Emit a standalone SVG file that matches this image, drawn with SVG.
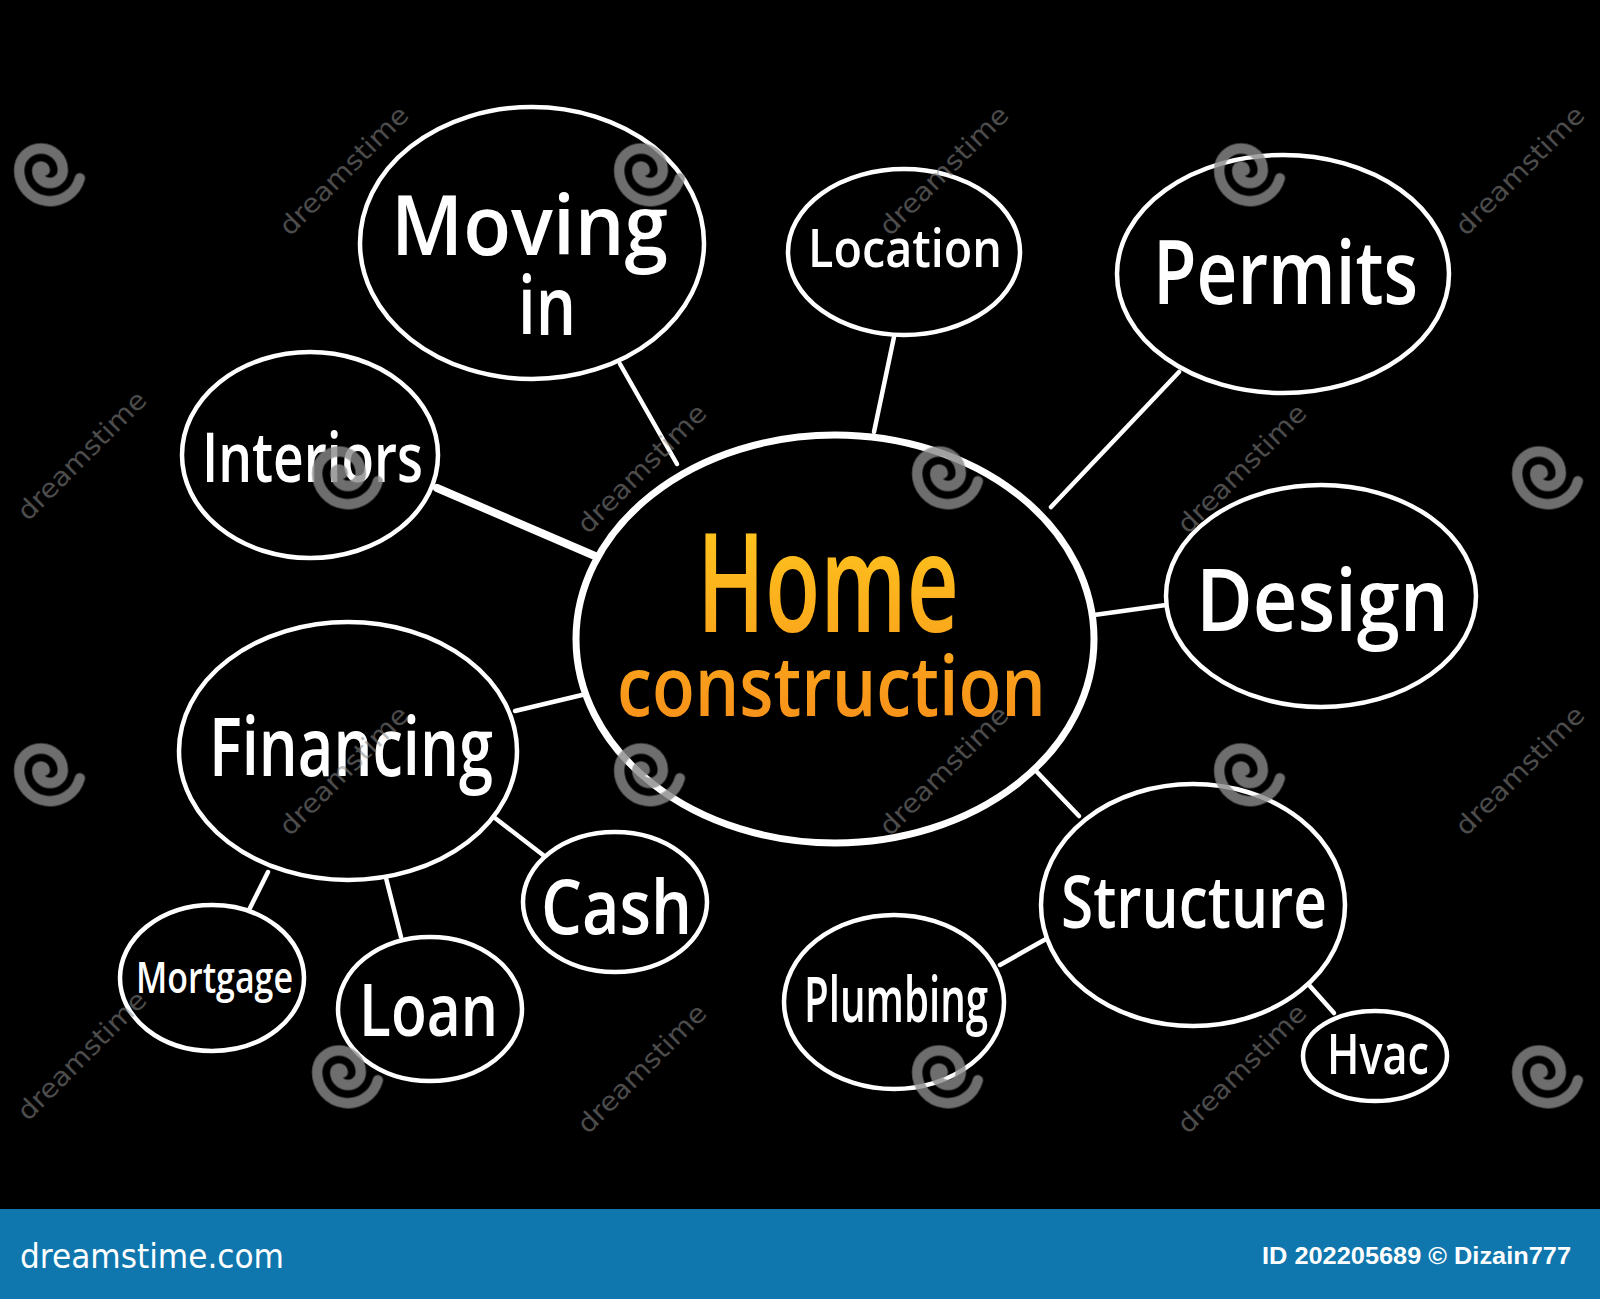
<svg xmlns="http://www.w3.org/2000/svg" width="1600" height="1299" viewBox="0 0 1600 1299">
  <defs>
    <style>
      .node ellipse { fill: none; stroke: #ffffff; stroke-width: 4.5; }
      .lbl { font-family: "Open Sans", "Liberation Sans", sans-serif; font-weight: 600; fill: #ffffff; }
      .hub { font-family: "Open Sans", "Liberation Sans", sans-serif; font-weight: 600; fill: url(#orange); }
      #connectors line { stroke: #ffffff; stroke-width: 4.5; stroke-linecap: round; }
      .wm-text { font-family: "DejaVu Sans", sans-serif; font-size: 26px; fill: #8a8a8a; opacity: 0.55; }
      .footer { font-family: "DejaVu Sans", "Liberation Sans", sans-serif; fill: #ffffff; }
    </style>
    <linearGradient id="orange" gradientUnits="userSpaceOnUse" x1="0" y1="510" x2="0" y2="720">
      <stop offset="0" stop-color="#FFC81E"/>
      <stop offset="1" stop-color="#F7921A"/>
    </linearGradient>
    <symbol id="spiral" overflow="visible">
      <path transform="scale(0.95) translate(-9.5,-5)" d="M 4 0 A 4 4 0 0 0 -4 0 A 13.5 13.5 0 0 0 23 0 A 23 23 0 0 0 -23 0 A 32.5 32.5 0 0 0 40.9 8.4" fill="none" stroke="#8a8a8a" stroke-width="11" stroke-linecap="round"/>
    </symbol>
  </defs>

  <rect x="0" y="0" width="1600" height="1299" fill="#000000"/>

  <g id="connectors">
    <line x1="620" y1="364" x2="677" y2="464"/>
    <line x1="894" y1="337" x2="874" y2="432"/>
    <line x1="1179" y1="372" x2="1051" y2="507"/>
    <line x1="437" y1="488" x2="595" y2="556" style="stroke-width:8"/>
    <line x1="1166" y1="605" x2="1094" y2="615"/>
    <line x1="515" y1="711" x2="582" y2="695"/>
    <line x1="1079" y1="816" x2="1037" y2="772"/>
    <line x1="495" y1="818" x2="543" y2="855"/>
    <line x1="268" y1="872" x2="250" y2="908"/>
    <line x1="386" y1="878" x2="401" y2="937"/>
    <line x1="1046" y1="939" x2="1000" y2="965"/>
    <line x1="1309" y1="985" x2="1334" y2="1013"/>
  </g>

  <g id="node-home" class="node">
    <ellipse cx="835" cy="639" rx="259" ry="204" style="stroke-width:7"/>
    <text class="hub" x="697" y="632" font-size="138" textLength="262" lengthAdjust="spacingAndGlyphs">Home</text>
    <text class="hub" x="617" y="716" font-size="84" textLength="429" lengthAdjust="spacingAndGlyphs">construction</text>
  </g>

  <g id="node-moving-in" class="node">
    <ellipse cx="532" cy="243" rx="172" ry="136"/>
    <text class="lbl" x="391" y="255" font-size="84" textLength="277" lengthAdjust="spacingAndGlyphs">Moving</text>
    <text class="lbl" x="518" y="335" font-size="82" textLength="58" lengthAdjust="spacingAndGlyphs">in</text>
  </g>

  <g id="node-location" class="node">
    <ellipse cx="904" cy="252" rx="116" ry="83"/>
    <text class="lbl" x="808" y="267" font-size="52" textLength="194" lengthAdjust="spacingAndGlyphs">Location</text>
  </g>

  <g id="node-permits" class="node">
    <ellipse cx="1283" cy="274" rx="166" ry="119"/>
    <text class="lbl" x="1153" y="304" font-size="88" textLength="265" lengthAdjust="spacingAndGlyphs">Permits</text>
  </g>

  <g id="node-interiors" class="node">
    <ellipse cx="310" cy="455" rx="128" ry="103"/>
    <text class="lbl" x="202" y="482" font-size="68" textLength="221" lengthAdjust="spacingAndGlyphs">Interiors</text>
  </g>

  <g id="node-design" class="node">
    <ellipse cx="1321" cy="596" rx="155" ry="111"/>
    <text class="lbl" x="1196" y="631" font-size="86" textLength="253" lengthAdjust="spacingAndGlyphs">Design</text>
  </g>

  <g id="node-financing" class="node">
    <ellipse cx="348" cy="751" rx="169" ry="129"/>
    <text class="lbl" x="209" y="776" font-size="82" textLength="284" lengthAdjust="spacingAndGlyphs">Financing</text>
  </g>

  <g id="node-cash" class="node">
    <ellipse cx="615" cy="902" rx="92" ry="70"/>
    <text class="lbl" x="541" y="934" font-size="76" textLength="151" lengthAdjust="spacingAndGlyphs">Cash</text>
  </g>

  <g id="node-mortgage" class="node">
    <ellipse cx="212" cy="978" rx="92" ry="73"/>
    <text class="lbl" x="136" y="993" font-size="44" textLength="157" lengthAdjust="spacingAndGlyphs">Mortgage</text>
  </g>

  <g id="node-loan" class="node">
    <ellipse cx="430" cy="1009" rx="92" ry="72"/>
    <text class="lbl" x="359" y="1036" font-size="72" textLength="139" lengthAdjust="spacingAndGlyphs">Loan</text>
  </g>

  <g id="node-structure" class="node">
    <ellipse cx="1193" cy="905" rx="152" ry="121"/>
    <text class="lbl" x="1061" y="928" font-size="72" textLength="266" lengthAdjust="spacingAndGlyphs">Structure</text>
  </g>

  <g id="node-plumbing" class="node">
    <ellipse cx="894" cy="1002" rx="110" ry="87"/>
    <text class="lbl" x="804" y="1022" font-size="64" textLength="184" lengthAdjust="spacingAndGlyphs">Plumbing</text>
  </g>

  <g id="node-hvac" class="node">
    <ellipse cx="1375" cy="1056" rx="72" ry="45"/>
    <text class="lbl" x="1327" y="1074" font-size="56" textLength="102" lengthAdjust="spacingAndGlyphs">Hvac</text>
  </g>

  <g id="watermark" opacity="0.8">
    <use href="#spiral" x="50" y="175"/>
    <use href="#spiral" x="650" y="175"/>
    <use href="#spiral" x="1250" y="175"/>
    <use href="#spiral" x="348" y="478"/>
    <use href="#spiral" x="948" y="478"/>
    <use href="#spiral" x="1548" y="478"/>
    <use href="#spiral" x="50" y="775"/>
    <use href="#spiral" x="650" y="775"/>
    <use href="#spiral" x="1250" y="775"/>
    <use href="#spiral" x="348" y="1077"/>
    <use href="#spiral" x="948" y="1077"/>
    <use href="#spiral" x="1548" y="1077"/>
  </g>
  <g id="watermark-text">
    <text class="wm-text" transform="translate(290,237) rotate(-45)" textLength="170" lengthAdjust="spacingAndGlyphs">dreamstime</text>
    <text class="wm-text" transform="translate(890,237) rotate(-45)" textLength="170" lengthAdjust="spacingAndGlyphs">dreamstime</text>
    <text class="wm-text" transform="translate(1466,237) rotate(-45)" textLength="170" lengthAdjust="spacingAndGlyphs">dreamstime</text>
    <text class="wm-text" transform="translate(28,522) rotate(-45)" textLength="170" lengthAdjust="spacingAndGlyphs">dreamstime</text>
    <text class="wm-text" transform="translate(588,535) rotate(-45)" textLength="170" lengthAdjust="spacingAndGlyphs">dreamstime</text>
    <text class="wm-text" transform="translate(1188,535) rotate(-45)" textLength="170" lengthAdjust="spacingAndGlyphs">dreamstime</text>
    <text class="wm-text" transform="translate(290,837) rotate(-45)" textLength="170" lengthAdjust="spacingAndGlyphs">dreamstime</text>
    <text class="wm-text" transform="translate(890,837) rotate(-45)" textLength="170" lengthAdjust="spacingAndGlyphs">dreamstime</text>
    <text class="wm-text" transform="translate(1466,837) rotate(-45)" textLength="170" lengthAdjust="spacingAndGlyphs">dreamstime</text>
    <text class="wm-text" transform="translate(28,1122) rotate(-45)" textLength="170" lengthAdjust="spacingAndGlyphs">dreamstime</text>
    <text class="wm-text" transform="translate(588,1135) rotate(-45)" textLength="170" lengthAdjust="spacingAndGlyphs">dreamstime</text>
    <text class="wm-text" transform="translate(1188,1135) rotate(-45)" textLength="170" lengthAdjust="spacingAndGlyphs">dreamstime</text>
  </g>

  <g id="footer">
    <rect x="0" y="1209" width="1600" height="90" fill="#0F77AE"/>
    <text class="footer" x="20" y="1268" font-size="34" textLength="264" lengthAdjust="spacingAndGlyphs">dreamstime.com</text>
    <text x="1262" y="1264" font-family="'Liberation Sans', Arial, sans-serif" font-size="23" font-weight="bold" fill="#ffffff" textLength="309" lengthAdjust="spacingAndGlyphs">ID 202205689 © Dizain777</text>
  </g>
</svg>
